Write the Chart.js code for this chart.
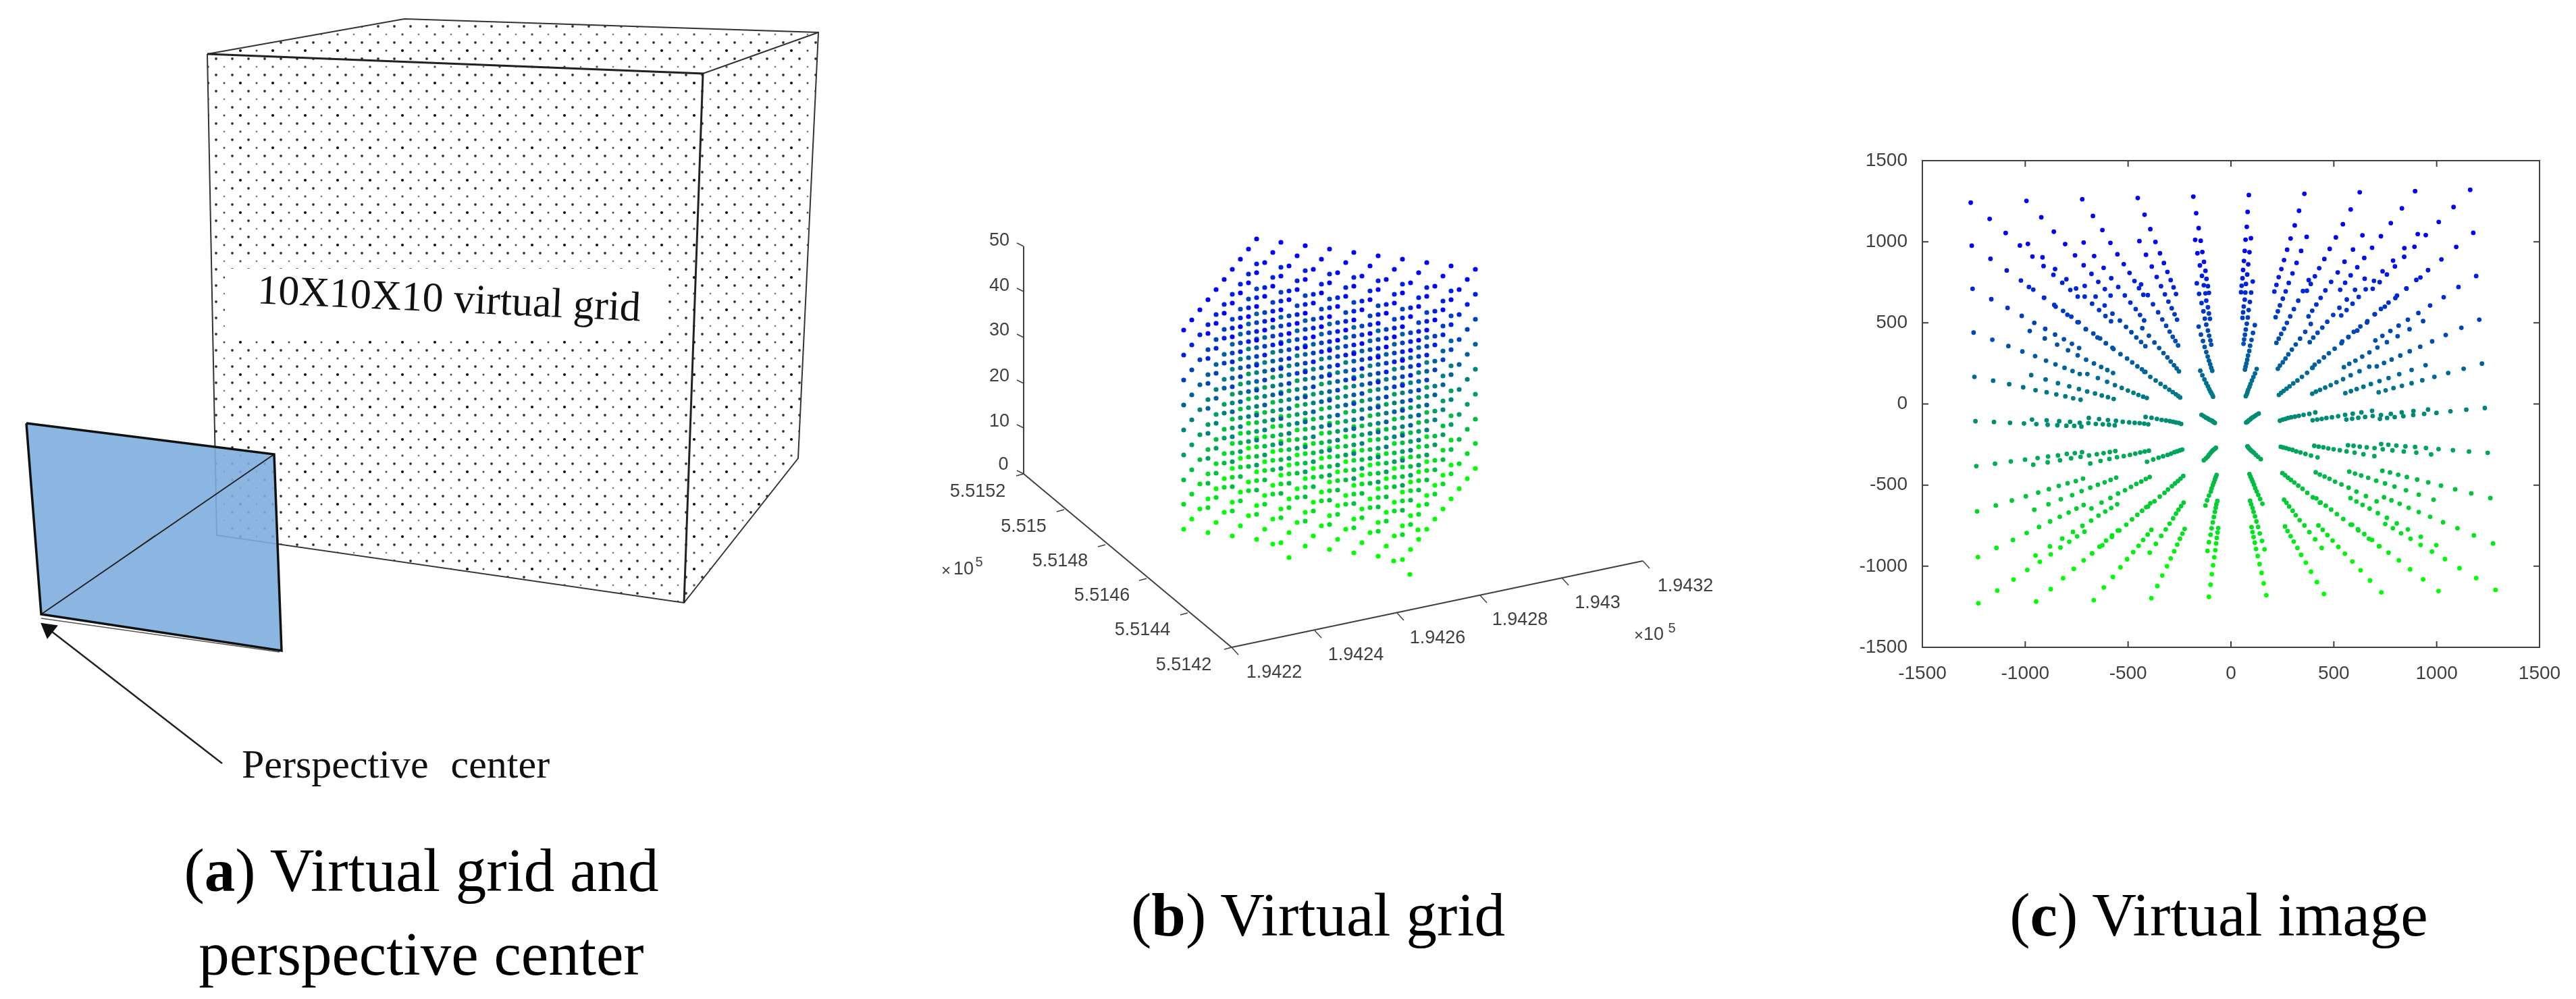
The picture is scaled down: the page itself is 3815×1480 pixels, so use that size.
<!DOCTYPE html>
<html>
<head>
<meta charset="utf-8">
<title>Virtual grid and virtual image</title>
<script src="https://cdn.jsdelivr.net/npm/chart.js@4"></script>
<style>
  html, body { margin: 0; padding: 0; background: #fff; }
  #page { position: relative; width: 3815px; height: 1480px; overflow: hidden; }
  canvas { position: absolute; }
  .caption { position: absolute; width: 1100px; text-align: center; color: #000;
             font: 91px/124px "Liberation Serif", serif; white-space: nowrap; }
</style>
</head>
<body>
<div id="page">
  <canvas id="diagramChart" width="1300" height="1200" style="left:0;top:0"></canvas>
  <canvas id="gridChart" width="1200" height="760" style="left:1350px;top:300px"></canvas>
  <canvas id="imageChart" width="1115" height="850" style="left:2700px;top:180px"></canvas>
  <div class="caption" style="left:74px;top:1228px">(<b>a</b>) Virtual grid and<br>perspective center</div>
  <div class="caption" style="left:1402px;top:1294px">(<b>b</b>) Virtual grid</div>
  <div class="caption" style="left:2736px;top:1294px">(<b>c</b>) Virtual image</div>
</div>
<script>
// ── Panel (c) values: image coordinates, ray by ray ──
var imageUpperLeft = [
  [-1265,1241],[-1173,1141],[-1095,1054],[-1026,977],[-965,909],[-911,850],[-863,796],[-820,747],[-781,703],[-745,662],
  [-994,1252],[-922,1151],[-861,1062],[-806,986],[-758,916],[-716,855],[-678,802],[-645,753],[-613,708],[-585,668],
  [-723,1262],[-671,1159],[-625,1072],[-586,993],[-552,923],[-521,862],[-493,808],[-469,758],[-447,714],[-426,673],
  [-453,1270],[-420,1167],[-392,1078],[-367,999],[-345,929],[-326,869],[-309,814],[-293,764],[-279,719],[-267,678],
  [-183,1278],[-169,1176],[-157,1084],[-147,1006],[-139,937],[-131,876],[-124,821],[-119,771],[-112,726],[-107,685],
  [-1260,976],[-1169,895],[-1090,823],[-1021,761],[-961,705],[-909,655],[-859,611],[-816,574],[-776,538],[-740,504],
  [-987,987],[-916,904],[-855,832],[-800,769],[-753,712],[-711,662],[-675,618],[-641,579],[-610,542],[-583,510],
  [-716,995],[-665,912],[-619,839],[-582,775],[-548,721],[-516,669],[-489,625],[-463,585],[-442,549],[-422,515],
  [-445,1004],[-413,920],[-385,847],[-361,783],[-340,726],[-321,676],[-304,631],[-288,590],[-274,553],[-262,520],
  [-174,1012],[-163,929],[-151,854],[-141,790],[-132,732],[-124,682],[-120,637],[-112,596],[-107,558],[-102,525],
  [-1256,710],[-1165,646],[-1086,592],[-1017,543],[-956,500],[-903,463],[-855,428],[-812,399],[-773,371],[-738,345],
  [-982,721],[-908,655],[-852,600],[-795,550],[-746,504],[-705,461],[-669,434],[-636,404],[-608,374],[-576,346],
  [-711,728],[-658,662],[-614,607],[-576,557],[-540,514],[-510,475],[-484,442],[-460,410],[-437,382],[-416,356],
  [-437,737],[-404,671],[-379,615],[-354,565],[-334,521],[-315,482],[-298,446],[-283,414],[-270,388],[-257,361],
  [-166,744],[-155,679],[-143,622],[-134,571],[-127,526],[-120,489],[-112,453],[-106,421],[-100,392],[-96,366],
  [-1251,440],[-1160,396],[-1082,357],[-1014,324],[-952,295],[-899,267],[-853,244],[-809,223],[-770,203],[-735,185],
  [-978,450],[-905,404],[-845,366],[-792,331],[-745,300],[-704,273],[-666,250],[-631,228],[-601,209],[-573,191],
  [-706,461],[-649,410],[-608,374],[-571,339],[-537,307],[-505,280],[-480,256],[-455,232],[-433,214],[-416,198],
  [-431,467],[-399,421],[-372,379],[-349,345],[-328,314],[-309,287],[-293,262],[-277,239],[-264,219],[-253,201],
  [-157,477],[-146,428],[-136,388],[-128,352],[-120,320],[-113,292],[-107,267],[-101,245],[-96,223],[-91,205],
  [-1247,167],[-1156,144],[-1078,122],[-1010,103],[-950,85],[-896,72],[-849,59],[-805,47],[-767,35],[-731,26],
  [-971,178],[-901,151],[-841,128],[-786,109],[-739,92],[-699,77],[-661,65],[-628,52],[-598,42],[-570,31],
  [-698,185],[-647,160],[-602,137],[-564,116],[-531,99],[-501,83],[-474,69],[-450,56],[-427,45],[-409,37],
  [-421,198],[-392,167],[-366,145],[-342,124],[-320,105],[-300,88],[-283,73],[-268,60],[-256,49],[-247,40],
  [-149,205],[-139,177],[-129,151],[-120,128],[-112,109],[-106,92],[-100,77],[-95,66],[-90,55],[-87,45]
];
var imageUpperRight = [
  [87,1288],[81,1184],[77,1092],[71,1013],[67,944],[63,882],[59,826],[56,775],[52,729],[49,689],
  [357,1296],[331,1191],[310,1101],[290,1020],[273,951],[258,887],[245,832],[232,782],[221,734],[211,693],
  [626,1305],[582,1199],[544,1108],[510,1027],[480,956],[454,894],[429,837],[408,787],[388,740],[369,698],
  [895,1312],[831,1206],[777,1115],[729,1034],[686,963],[648,900],[614,843],[582,793],[555,747],[531,704],
  [1163,1320],[1082,1214],[1010,1122],[947,1041],[892,969],[842,907],[797,848],[758,798],[723,751],[689,710],
  [97,1022],[90,936],[84,861],[79,798],[73,740],[70,687],[67,643],[62,601],[59,565],[56,531],
  [368,1030],[341,944],[319,870],[299,805],[281,746],[266,694],[252,649],[238,608],[228,571],[217,535],
  [639,1040],[593,952],[552,877],[519,811],[487,753],[459,700],[436,654],[415,613],[395,575],[377,540],
  [908,1047],[843,961],[788,884],[737,818],[695,759],[655,707],[621,660],[591,618],[562,579],[536,546],
  [1178,1055],[1095,968],[1023,891],[958,825],[901,765],[853,712],[807,668],[766,625],[729,586],[698,553],
  [106,755],[98,687],[92,629],[86,579],[82,533],[77,495],[72,459],[68,427],[64,398],[61,371],
  [378,764],[350,696],[327,637],[306,585],[288,540],[272,500],[258,464],[244,432],[232,403],[221,377],
  [650,772],[603,704],[563,644],[527,593],[497,549],[468,507],[444,471],[421,439],[400,409],[383,381],
  [921,780],[853,712],[799,653],[748,600],[700,553],[663,510],[629,478],[597,445],[571,413],[541,385],
  [1192,789],[1106,721],[1034,658],[968,607],[911,561],[860,520],[815,483],[775,450],[736,420],[702,392],
  [116,486],[107,438],[100,395],[93,359],[89,327],[83,299],[79,273],[75,250],[71,230],[68,212],
  [388,493],[361,445],[336,403],[315,367],[296,335],[279,306],[265,280],[252,257],[238,237],[228,217],
  [661,502],[614,453],[571,413],[537,375],[504,341],[476,313],[452,287],[428,262],[407,242],[395,223],
  [934,511],[868,461],[810,418],[758,381],[712,348],[673,318],[638,292],[605,267],[575,248],[549,227],
  [1207,520],[1120,470],[1044,425],[978,386],[920,353],[869,325],[823,299],[781,274],[744,253],[709,232],
  [125,216],[117,188],[109,166],[102,145],[95,123],[90,105],[84,88],[80,73],[77,60],[72,48],
  [397,223],[370,192],[345,167],[323,145],[303,127],[285,109],[270,94],[256,81],[244,69],[233,56],
  [672,230],[625,202],[582,177],[545,153],[513,134],[485,116],[458,101],[433,87],[413,76],[395,63],
  [946,239],[878,210],[818,184],[766,160],[722,141],[680,123],[644,106],[611,92],[583,79],[556,67],
  [1220,249],[1131,217],[1056,191],[989,167],[930,146],[878,128],[831,112],[790,98],[752,84],[718,72]
];
var imageLowerLeft = [
  [-1242,-106],[-1152,-111],[-1074,-116],[-1006,-120],[-946,-124],[-891,-128],[-844,-131],[-800,-134],[-762,-135],[-727,-139],
  [-967,-96],[-896,-100],[-835,-106],[-782,-110],[-735,-116],[-693,-118],[-657,-123],[-623,-125],[-593,-128],[-565,-132],
  [-691,-86],[-641,-93],[-598,-99],[-559,-104],[-526,-110],[-495,-113],[-468,-116],[-444,-118],[-422,-121],[-402,-125],
  [-415,-80],[-386,-85],[-360,-92],[-337,-98],[-316,-102],[-297,-106],[-281,-110],[-267,-114],[-253,-117],[-242,-123],
  [-143,-67],[-132,-75],[-122,-84],[-113,-89],[-106,-96],[-98,-100],[-91,-104],[-87,-109],[-83,-113],[-78,-117],
  [-1238,-383],[-1147,-368],[-1070,-354],[-1001,-343],[-940,-333],[-889,-324],[-841,-317],[-798,-308],[-759,-303],[-724,-297],
  [-961,-374],[-891,-360],[-831,-347],[-777,-335],[-731,-326],[-690,-317],[-652,-310],[-619,-303],[-589,-296],[-562,-290],
  [-684,-367],[-634,-351],[-591,-339],[-554,-328],[-521,-321],[-491,-314],[-465,-306],[-441,-299],[-419,-293],[-399,-288],
  [-408,-356],[-378,-342],[-352,-331],[-330,-322],[-308,-314],[-291,-306],[-275,-297],[-262,-292],[-248,-286],[-237,-281],
  [-132,-347],[-122,-336],[-113,-325],[-107,-314],[-100,-303],[-94,-294],[-88,-286],[-83,-281],[-77,-275],[-73,-270],
  [-1234,-662],[-1143,-626],[-1065,-595],[-997,-569],[-937,-546],[-885,-525],[-837,-505],[-794,-489],[-754,-475],[-719,-460],
  [-956,-652],[-887,-618],[-827,-587],[-772,-562],[-726,-537],[-684,-516],[-647,-498],[-614,-483],[-585,-468],[-558,-454],
  [-678,-644],[-629,-608],[-586,-579],[-549,-552],[-515,-532],[-486,-511],[-460,-493],[-436,-478],[-414,-462],[-395,-450],
  [-403,-632],[-372,-600],[-346,-571],[-323,-548],[-306,-527],[-287,-507],[-272,-490],[-258,-475],[-245,-460],[-232,-444],
  [-124,-626],[-116,-594],[-107,-565],[-98,-540],[-94,-521],[-88,-500],[-83,-483],[-78,-466],[-74,-451],[-70,-437],
  [-1230,-944],[-1140,-887],[-1060,-838],[-993,-795],[-933,-758],[-879,-724],[-832,-695],[-789,-669],[-751,-645],[-716,-623],
  [-950,-934],[-880,-878],[-820,-830],[-768,-788],[-722,-751],[-680,-719],[-644,-688],[-611,-663],[-582,-641],[-553,-618],
  [-675,-921],[-625,-871],[-579,-820],[-543,-780],[-509,-744],[-481,-711],[-455,-683],[-432,-658],[-412,-636],[-392,-612],
  [-395,-916],[-365,-862],[-339,-813],[-317,-773],[-298,-738],[-281,-705],[-267,-676],[-255,-652],[-242,-629],[-230,-608],
  [-114,-906],[-107,-852],[-99,-806],[-94,-766],[-88,-730],[-83,-697],[-78,-665],[-74,-640],[-71,-618],[-66,-598],
  [-1228,-1228],[-1136,-1150],[-1057,-1082],[-990,-1023],[-929,-973],[-876,-927],[-829,-885],[-786,-849],[-748,-816],[-712,-787],
  [-947,-1218],[-876,-1141],[-816,-1074],[-764,-1016],[-716,-964],[-675,-921],[-639,-880],[-607,-842],[-578,-810],[-550,-780],
  [-667,-1209],[-618,-1131],[-574,-1066],[-537,-1007],[-505,-957],[-475,-913],[-449,-874],[-427,-838],[-405,-805],[-387,-776],
  [-387,-1197],[-358,-1122],[-334,-1057],[-311,-1000],[-293,-952],[-276,-908],[-261,-867],[-248,-831],[-236,-799],[-225,-770],
  [-107,-1189],[-99,-1114],[-93,-1049],[-87,-994],[-81,-945],[-76,-901],[-72,-860],[-69,-826],[-65,-792],[-62,-765]
];
var imageLowerRight = [
  [1234,-25],[1144,-35],[1067,-45],[999,-55],[939,-61],[886,-68],[838,-75],[796,-81],[759,-86],[724,-92],
  [958,-34],[887,-43],[830,-52],[777,-61],[729,-68],[689,-74],[652,-80],[619,-85],[589,-91],[561,-96],
  [686,-42],[634,-52],[592,-60],[555,-67],[521,-75],[491,-82],[464,-86],[441,-92],[419,-96],[397,-100],
  [410,-52],[381,-61],[353,-67],[330,-73],[311,-78],[293,-82],[278,-86],[265,-92],[252,-96],[238,-103],
  [135,-59],[124,-67],[115,-75],[106,-82],[98,-89],[93,-96],[87,-100],[83,-106],[79,-110],[74,-114],
  [1248,-301],[1157,-293],[1079,-285],[1009,-278],[948,-271],[895,-265],[848,-261],[804,-256],[765,-251],[730,-247],
  [973,-311],[901,-300],[840,-293],[785,-286],[738,-279],[698,-272],[660,-267],[626,-263],[596,-258],[569,-254],
  [697,-321],[644,-310],[601,-300],[562,-292],[529,-285],[499,-279],[473,-274],[449,-267],[426,-263],[405,-258],
  [421,-329],[389,-318],[362,-308],[338,-299],[317,-292],[299,-283],[282,-278],[268,-272],[254,-268],[242,-264],
  [145,-340],[132,-326],[121,-314],[112,-301],[104,-293],[96,-285],[91,-278],[86,-271],[83,-265],[80,-261],
  [1261,-580],[1168,-551],[1090,-526],[1021,-503],[959,-483],[905,-466],[855,-450],[813,-436],[773,-422],[736,-412],
  [985,-590],[913,-559],[851,-532],[795,-509],[749,-490],[706,-473],[667,-455],[633,-441],[603,-429],[575,-417],
  [708,-600],[656,-568],[610,-540],[572,-516],[537,-496],[506,-479],[479,-461],[455,-447],[432,-435],[412,-421],
  [432,-609],[398,-575],[371,-548],[348,-523],[327,-503],[308,-484],[291,-468],[277,-454],[263,-439],[250,-426],
  [153,-615],[142,-586],[133,-561],[125,-539],[118,-519],[112,-498],[106,-480],[101,-465],[95,-448],[90,-432],
  [1274,-860],[1181,-810],[1101,-766],[1031,-729],[968,-695],[913,-666],[864,-640],[820,-615],[780,-594],[744,-575],
  [998,-870],[923,-819],[860,-773],[806,-736],[758,-702],[714,-673],[674,-645],[640,-622],[610,-601],[581,-580],
  [721,-876],[671,-831],[619,-779],[582,-744],[546,-709],[515,-679],[487,-651],[461,-627],[436,-607],[415,-582],
  [441,-887],[409,-834],[381,-790],[357,-749],[334,-716],[315,-686],[300,-658],[283,-632],[270,-609],[258,-590],
  [163,-896],[151,-844],[140,-798],[132,-758],[124,-724],[117,-693],[110,-665],[105,-641],[98,-618],[93,-597],
  [1286,-1146],[1192,-1073],[1111,-1012],[1040,-956],[977,-910],[922,-869],[873,-831],[827,-797],[787,-766],[750,-740],
  [1009,-1153],[934,-1081],[871,-1019],[816,-964],[766,-916],[720,-877],[686,-838],[648,-802],[617,-772],[589,-744],
  [731,-1161],[676,-1088],[630,-1025],[590,-971],[554,-923],[522,-881],[494,-842],[469,-808],[446,-776],[425,-749],
  [452,-1171],[418,-1098],[389,-1034],[364,-978],[341,-930],[323,-887],[305,-848],[290,-815],[275,-783],[263,-755],
  [172,-1179],[159,-1106],[149,-1041],[139,-987],[130,-937],[122,-894],[116,-855],[110,-820],[105,-790],[100,-759]
];

// ── Panel (b) values: the 3D view read as positions on the picture plane ──
// one x per grid column, then one list of heights per level (0 = top, blue)
var gridColumnX = [
  403,439,475,511,547,583,619,655,691,727,
  415,451,487,523,559,595,631,667,703,739,
  427,463,499,535,571,607,643,679,715,751,
  439,475,511,547,583,619,655,691,727,763,
  451,487,523,559,595,631,667,703,739,775,
  463,499,535,571,607,643,679,715,751,787,
  475,511,547,583,619,655,691,727,763,799,
  487,523,559,595,631,667,703,739,775,811,
  499,535,571,607,643,679,715,751,787,823,
  511,547,583,619,655,691,727,763,799,835
];
var gridLevel0 = [
  189,194,199,204,209,214,219,224,229,234, 174,179,184,189,194,199,204,209,214,219,
  159,164,169,174,179,184,189,194,199,204, 144,149,154,159,164,169,174,179,184,189,
  129,134,139,144,149,154,159,164,169,174, 114,119,124,129,134,139,144,149,154,159,
  99,104,109,114,119,124,129,134,139,144, 84,89,94,99,104,109,114,119,124,129,
  69,74,79,84,89,94,99,104,109,114, 54,59,64,69,74,79,84,89,94,99
];
var gridLevel1 = [
  226,231,236,241,246,251,256,261,266,271, 211,216,221,226,231,236,241,246,251,256,
  196,201,206,211,216,221,226,231,236,241, 181,186,191,196,201,206,211,216,221,226,
  166,171,176,181,186,191,196,201,206,211, 151,156,161,166,171,176,181,186,191,196,
  136,141,146,151,156,161,166,171,176,181, 121,126,131,136,141,146,151,156,161,166,
  106,111,116,121,126,131,136,141,146,151, 91,96,101,106,111,116,121,126,131,136
];
var gridLevel2 = [
  263,268,273,278,283,288,293,298,303,308, 248,253,258,263,268,273,278,283,288,293,
  233,238,243,248,253,258,263,268,273,278, 218,223,228,233,238,243,248,253,258,263,
  203,208,213,218,223,228,233,238,243,248, 188,193,198,203,208,213,218,223,228,233,
  173,178,183,188,193,198,203,208,213,218, 158,163,168,173,178,183,188,193,198,203,
  143,148,153,158,163,168,173,178,183,188, 128,133,138,143,148,153,158,163,168,173
];
var gridLevel3 = [
  300,305,310,315,320,325,330,335,340,345, 285,290,295,300,305,310,315,320,325,330,
  270,275,280,285,290,295,300,305,310,315, 255,260,265,270,275,280,285,290,295,300,
  240,245,250,255,260,265,270,275,280,285, 225,230,235,240,245,250,255,260,265,270,
  210,215,220,225,230,235,240,245,250,255, 195,200,205,210,215,220,225,230,235,240,
  180,185,190,195,200,205,210,215,220,225, 165,170,175,180,185,190,195,200,205,210
];
var gridLevel4 = [
  337,342,347,352,357,362,367,372,377,382, 322,327,332,337,342,347,352,357,362,367,
  307,312,317,322,327,332,337,342,347,352, 292,297,302,307,312,317,322,327,332,337,
  277,282,287,292,297,302,307,312,317,322, 262,267,272,277,282,287,292,297,302,307,
  247,252,257,262,267,272,277,282,287,292, 232,237,242,247,252,257,262,267,272,277,
  217,222,227,232,237,242,247,252,257,262, 202,207,212,217,222,227,232,237,242,247
];
var gridLevel5 = [
  374,379,384,389,394,399,404,409,414,419, 359,364,369,374,379,384,389,394,399,404,
  344,349,354,359,364,369,374,379,384,389, 329,334,339,344,349,354,359,364,369,374,
  314,319,324,329,334,339,344,349,354,359, 299,304,309,314,319,324,329,334,339,344,
  284,289,294,299,304,309,314,319,324,329, 269,274,279,284,289,294,299,304,309,314,
  254,259,264,269,274,279,284,289,294,299, 239,244,249,254,259,264,269,274,279,284
];
var gridLevel6 = [
  411,416,421,426,431,436,441,446,451,456, 396,401,406,411,416,421,426,431,436,441,
  381,386,391,396,401,406,411,416,421,426, 366,371,376,381,386,391,396,401,406,411,
  351,356,361,366,371,376,381,386,391,396, 336,341,346,351,356,361,366,371,376,381,
  321,326,331,336,341,346,351,356,361,366, 306,311,316,321,326,331,336,341,346,351,
  291,296,301,306,311,316,321,326,331,336, 276,281,286,291,296,301,306,311,316,321
];
var gridLevel7 = [
  447,452,457,462,467,472,477,482,487,492, 432,437,442,447,452,457,462,467,472,477,
  417,422,427,432,437,442,447,452,457,462, 402,407,412,417,422,427,432,437,442,447,
  387,392,397,402,407,412,417,422,427,432, 372,377,382,387,392,397,402,407,412,417,
  357,362,367,372,377,382,387,392,397,402, 342,347,352,357,362,367,372,377,382,387,
  327,332,337,342,347,352,357,362,367,372, 312,317,322,327,332,337,342,347,352,357
];
var gridLevel8 = [
  484,489,494,499,504,509,514,519,524,529, 469,474,479,484,489,494,499,504,509,514,
  454,459,464,469,474,479,484,489,494,499, 439,444,449,454,459,464,469,474,479,484,
  424,429,434,439,444,449,454,459,464,469, 409,414,419,424,429,434,439,444,449,454,
  394,399,404,409,414,419,424,429,434,439, 379,384,389,394,399,404,409,414,419,424,
  364,369,374,379,384,389,394,399,404,409, 349,354,359,364,369,374,379,384,389,394
];
// the few lowest dots that hang under the bottom level
var gridBottomX = [535,559,714,738,750];
var gridBottomY = [506,526,531,551,485];

// axis ticks of the 3D view, on the picture plane
var zTickLabels = ["50","40","30","20","10","0"];
var zTickHeights = [65,132,200,268,334,402];
var zLabelSpots = [[130,57],[130,124],[130,190],[130,258],[130,325],[136,389]];
var northTickLabels = ["5.5152","5.515","5.5148","5.5146","5.5144","5.5142"];
var northTickSpots = [[166,402],[226,455],[287,507],[348,557],[409,608],[474,659]];
var northLabelSpots = [[98,429],[166,481],[220,532],[282,583],[342,634],[403,686]];
var eastTickLabels = ["1.9422","1.9424","1.9426","1.9428","1.943","1.9432"];
var eastTickSpots = [[474,659],[597,634],[719,608],[842,582],[963,556],[1083,531]];
var eastLabelSpots = [[537,697],[658,671],[779,646],[901,619],[1016,594],[1146,569]];

// ── Panel (a) diagram outline, on the picture plane ──
var cubeOutline = [[307,80],[599,28],[1212,48],[1182,679],[1013,893],[321,793]];
var cubeFrontTop = [[307,80],[1041,109],[1013,893]];
var cubeBackEdge = [[1041,109],[1212,48]];
var planeOutline = [[39,627],[406,673],[417,964],[61,910],[39,627]];
var planeDiagonal = [[61,910],[406,673]];
var planeUnderline = [[61,916],[414,966]];
var planeFold = [[166,838],[230,793]];
var arrowShaft = [[329,1131],[72,932]];
var arrowTip = [[72,932]];

var TICK_FONT = { family: "'Liberation Sans', Arial, sans-serif", size: 28 };
var AXIS_GREY = "#404040";

function pts(pairs) {
  return pairs.map(function(p) { return { x: p[0], y: p[1] }; });
}

function lineSet(pairs, color, width) {
  return { data: pts(pairs), showLine: true, borderColor: color, borderWidth: width,
           pointRadius: 0, tension: 0, fill: false };
}

// MATLAB winter colormap: blue at the top, green at the bottom
function winter(t) {
  t = Math.max(0, Math.min(1, t));
  return "rgb(0," + Math.round(255 * t) + "," + Math.round(255 * (1 - t)) + ")";
}

function planeScales(width, height) {
  return {
    x: { type: "linear", display: false, min: 0, max: width },
    y: { type: "linear", display: false, min: 0, max: height, reverse: true }
  };
}

var quietPlugins = { legend: { display: false }, tooltip: { enabled: false } };

// ── Panel (a) ───────────────────────────────────────────────────
function makeDotTile() {
  var tile = document.createElement("canvas");
  tile.width = 48; tile.height = 48;
  var c = tile.getContext("2d");
  function dot(x, y, r, col) {
    c.fillStyle = col; c.beginPath(); c.arc(x, y, r, 0, Math.PI * 2); c.fill();
  }
  dot(20, 3, 1.8, "#555"); dot(44, 3, 1.3, "#777");
  dot(8, 15, 1.9, "#333"); dot(32, 15, 1.9, "#333");
  dot(20, 27, 2.1, "#111"); dot(44, 27, 1.5, "#444");
  dot(8, 39, 1.9, "#333"); dot(32, 39, 1.9, "#333");
  return tile;
}

var cubeHatchPlugin = {
  id: "cubeHatch",
  beforeDatasetsDraw: function(chart) {
    var ctx = chart.ctx;
    var sx = chart.scales.x, sy = chart.scales.y;
    ctx.save();
    ctx.beginPath();
    cubeOutline.forEach(function(p, i) {
      var px = sx.getPixelForValue(p[0]), py = sy.getPixelForValue(p[1]);
      if (i === 0) ctx.moveTo(px, py); else ctx.lineTo(px, py);
    });
    ctx.closePath();
    ctx.clip();
    ctx.fillStyle = ctx.createPattern(makeDotTile(), "repeat");
    ctx.fillRect(0, 0, chart.width, chart.height);
    ctx.restore();

    // white label patch and the tilted label on the front face
    ctx.save();
    ctx.fillStyle = "#fff";
    ctx.fillRect(333, 398, 654, 99);
    ctx.translate(665, 446);
    ctx.rotate(0.046);
    ctx.fillStyle = "#111";
    ctx.font = "62px 'Liberation Serif', serif";
    ctx.textAlign = "center";
    ctx.textBaseline = "middle";
    ctx.fillText("10X10X10 virtual grid", 0, 0);
    ctx.restore();
  },
  afterDraw: function(chart) {
    var ctx = chart.ctx;
    ctx.save();
    ctx.fillStyle = "#111";
    ctx.font = "60px 'Liberation Serif', serif";
    ctx.wordSpacing = "18px";
    ctx.textAlign = "left";
    ctx.textBaseline = "alphabetic";
    ctx.fillText("Perspective center", 358, 1152);
    ctx.restore();
  }
};

new Chart(document.getElementById("diagramChart"), {
  type: "scatter",
  data: {
    datasets: [
      { data: pts(arrowTip), pointStyle: "triangle", pointRadius: 15, pointRotation: -52,
        pointBackgroundColor: "#111", pointBorderWidth: 0 },
      lineSet(arrowShaft, "#222", 2.5),
      lineSet(planeOutline, "#111", 3.5),
      lineSet(planeDiagonal, "#222", 2),
      lineSet(planeFold, "#555", 1.5),
      lineSet(planeUnderline, "#555", 1.5),
      { data: pts(planeOutline), showLine: true, fill: "shape", tension: 0, pointRadius: 0,
        borderWidth: 0, backgroundColor: "rgba(126,174,222,0.9)" },
      lineSet(cubeFrontTop, "#222", 3),
      lineSet(cubeBackEdge, "#333", 2),
      lineSet(cubeOutline.concat([cubeOutline[0]]), "#333", 2)
    ]
  },
  options: {
    responsive: false, animation: false, events: [],
    devicePixelRatio: 1,
    layout: { autoPadding: false },
    plugins: quietPlugins,
    scales: planeScales(1300, 1200)
  },
  plugins: [cubeHatchPlugin]
});

// ── Panel (b) ───────────────────────────────────────────────────
function levelSet(heights, level) {
  return {
    data: gridColumnX.map(function(x, i) { return { x: x, y: heights[i] }; }),
    pointRadius: 3.6,
    pointBorderWidth: 0,
    pointBackgroundColor: winter(level / 8)
  };
}

var gridDatasets = [
  levelSet(gridLevel0, 0), levelSet(gridLevel1, 1), levelSet(gridLevel2, 2),
  levelSet(gridLevel3, 3), levelSet(gridLevel4, 4), levelSet(gridLevel5, 5),
  levelSet(gridLevel6, 6), levelSet(gridLevel7, 7), levelSet(gridLevel8, 8),
  { data: gridBottomX.map(function(x, i) { return { x: x, y: gridBottomY[i] }; }),
    pointRadius: 3.6, pointBorderWidth: 0, pointBackgroundColor: winter(1) }
];

// 3D axes and their little ticks
gridDatasets.push(lineSet([[166,zTickHeights[0]],[166,402]], AXIS_GREY, 2));
gridDatasets.push(lineSet([northTickSpots[0], northTickSpots[5]], AXIS_GREY, 2));
gridDatasets.push(lineSet([eastTickSpots[0], eastTickSpots[5]], AXIS_GREY, 2));
zTickHeights.forEach(function(h) {
  gridDatasets.push(lineSet([[166,h],[156,h - 5]], AXIS_GREY, 1.5));
});
northTickSpots.forEach(function(p) {
  gridDatasets.push(lineSet([p, [p[0] - 11, p[1] + 3]], AXIS_GREY, 1.5));
});
eastTickSpots.forEach(function(p) {
  gridDatasets.push(lineSet([p, [p[0] + 10, p[1] + 11]], AXIS_GREY, 1.5));
});

var gridLabelsPlugin = {
  id: "gridLabels",
  afterDraw: function(chart) {
    var ctx = chart.ctx;
    var sx = chart.scales.x, sy = chart.scales.y;
    function put(text, p, size) {
      ctx.font = size + "px 'Liberation Sans', Arial, sans-serif";
      ctx.fillText(text, sx.getPixelForValue(p[0]), sy.getPixelForValue(p[1]));
    }
    ctx.save();
    ctx.fillStyle = AXIS_GREY;
    ctx.textAlign = "center";
    ctx.textBaseline = "middle";
    zTickLabels.forEach(function(t, i) { put(t, zLabelSpots[i], 27); });
    northTickLabels.forEach(function(t, i) { put(t, northLabelSpots[i], 27); });
    eastTickLabels.forEach(function(t, i) { put(t, eastLabelSpots[i], 27); });
    // the two axis multipliers
    put("\u00d7", [51, 546], 24); put("10", [77, 544], 27); put("5", [100, 533], 20);
    put("\u00d7", [1077, 642], 24); put("10", [1099, 641], 27); put("5", [1126, 631], 20);
    ctx.restore();
  }
};

new Chart(document.getElementById("gridChart"), {
  type: "scatter",
  data: { datasets: gridDatasets },
  options: {
    responsive: false, animation: false, events: [],
    devicePixelRatio: 1,
    layout: { autoPadding: false },
    plugins: quietPlugins,
    scales: planeScales(1200, 760)
  },
  plugins: [gridLabelsPlugin]
});

// ── Panel (c) ───────────────────────────────────────────────────
var imageFramePlugin = {
  id: "imageFrame",
  afterDraw: function(chart) {
    var ctx = chart.ctx, a = chart.chartArea;
    var sx = chart.scales.x, sy = chart.scales.y;
    ctx.save();
    ctx.strokeStyle = AXIS_GREY;
    ctx.lineWidth = 2;
    ctx.strokeRect(a.left, a.top, a.right - a.left, a.bottom - a.top);
    ctx.beginPath();
    sx.ticks.forEach(function(t) {
      var px = sx.getPixelForValue(t.value);
      ctx.moveTo(px, a.bottom); ctx.lineTo(px, a.bottom - 9);
      ctx.moveTo(px, a.top); ctx.lineTo(px, a.top + 9);
    });
    sy.ticks.forEach(function(t) {
      var py = sy.getPixelForValue(t.value);
      ctx.moveTo(a.left, py); ctx.lineTo(a.left + 9, py);
      ctx.moveTo(a.right, py); ctx.lineTo(a.right - 9, py);
    });
    ctx.stroke();
    ctx.restore();
  }
};

function imageSet(values) {
  return {
    data: values,
    pointRadius: 3.4,
    pointBorderWidth: 0,
    pointBackgroundColor: function(c) {
      var p = c.parsed;
      return winter(p ? (1000 - p.y) / 2000 : 0);
    }
  };
}

function plainTick(value) {
  return String(value);
}

new Chart(document.getElementById("imageChart"), {
  type: "scatter",
  data: {
    datasets: [imageSet(imageUpperLeft), imageSet(imageUpperRight),
               imageSet(imageLowerLeft), imageSet(imageLowerRight)]
  },
  options: {
    responsive: false, animation: false, events: [],
    devicePixelRatio: 1,
    layout: { autoPadding: false, padding: { top: 58, right: 54, left: 0, bottom: 0 } },
    plugins: quietPlugins,
    scales: {
      x: {
        type: "linear", min: -1500, max: 1500,
        grid: { display: false }, border: { display: false },
        ticks: { stepSize: 500, color: AXIS_GREY, font: TICK_FONT, padding: 14, maxRotation: 0,
                 callback: plainTick },
        afterFit: function(s) { s.height = 71; }
      },
      y: {
        type: "linear", min: -1500, max: 1500,
        grid: { display: false }, border: { display: false },
        ticks: { stepSize: 500, color: AXIS_GREY, font: TICK_FONT, padding: 14,
                 callback: plainTick },
        afterFit: function(s) { s.width = 147; }
      }
    }
  },
  plugins: [imageFramePlugin]
});
</script>
</body>
</html>
